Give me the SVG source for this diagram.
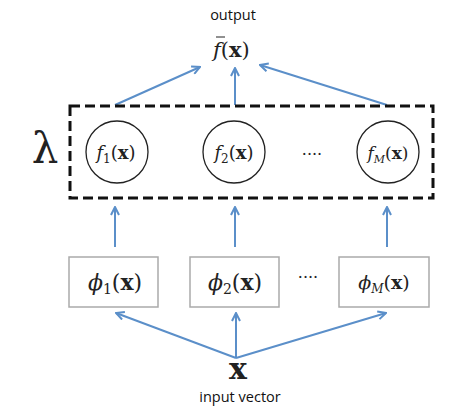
<svg xmlns="http://www.w3.org/2000/svg" width="474" height="420" viewBox="0 0 474 420">
<defs>
<marker id="ah" viewBox="0 0 10 10" refX="9" refY="5" markerWidth="10" markerHeight="10" markerUnits="userSpaceOnUse" orient="auto">
<path d="M1,1 L9,5 L1,9" fill="none" stroke="#5b8fc9" stroke-width="2"/>
</marker>
<style>
.c{stroke:#5b8fc9;stroke-width:2;fill:none;marker-end:url(#ah)}
.m{font-family:"DejaVu Serif","Liberation Serif",serif;fill:#222}
.s{font-family:"Open Sans","Liberation Sans",sans-serif;fill:#111;font-size:14.5px}
.circ{fill:#fff;stroke:#222;stroke-width:1.3}
.box{fill:#fff;stroke:#aaa;stroke-width:1.5}
</style>
</defs>
<rect width="474" height="420" fill="#fff"/>
<g id="connectors">
<line class="c" x1="115" y1="105" x2="200" y2="67"/>
<line class="c" x1="235" y1="105" x2="235" y2="68"/>
<line class="c" x1="387" y1="105" x2="260" y2="65"/>
<line class="c" x1="115" y1="247" x2="115" y2="207"/>
<line class="c" x1="235" y1="247" x2="235" y2="207"/>
<line class="c" x1="387" y1="247" x2="387" y2="207"/>
<line class="c" x1="236" y1="358" x2="116" y2="313"/>
<line class="c" x1="236" y1="358" x2="236" y2="313"/>
<line class="c" x1="236" y1="358" x2="386" y2="313"/>
</g>
<g id="output">
<text class="s" x="233" y="20" text-anchor="middle">output</text>
<text class="m" x="213" y="57" font-size="21" font-weight="300"><tspan font-style="italic">f</tspan>(<tspan font-weight="bold">x</tspan>)</text>
<line x1="216" y1="37" x2="225" y2="37" stroke="#222" stroke-width="1"/>
</g>
<g id="lambda-group">
<rect x="70" y="106" width="363" height="92" fill="none" stroke="#111" stroke-width="3" stroke-dasharray="10,5"/>
<text class="m" x="45" y="163" text-anchor="middle" font-size="42">λ</text>
</g>
<g id="f1">
<circle class="circ" cx="117" cy="152" r="31"/>
<text class="m" x="116" y="159" text-anchor="middle" font-size="18"><tspan font-style="italic">f</tspan><tspan font-size="12" dy="4">1</tspan><tspan dy="-4">(</tspan><tspan font-weight="bold">x</tspan>)</text>
</g>
<g id="f2">
<circle class="circ" cx="234" cy="152" r="31"/>
<text class="m" x="234" y="159" text-anchor="middle" font-size="18"><tspan font-style="italic">f</tspan><tspan font-size="12" dy="4">2</tspan><tspan dy="-4">(</tspan><tspan font-weight="bold">x</tspan>)</text>
</g>
<g id="fdots">
<text class="m" x="312" y="160" text-anchor="middle" font-size="16">····</text>
</g>
<g id="fM">
<circle class="circ" cx="388" cy="152" r="31"/>
<text class="m" x="388" y="159" text-anchor="middle" font-size="17"><tspan font-style="italic">f</tspan><tspan font-size="11" font-style="italic" dy="4">M</tspan><tspan dy="-4">(</tspan><tspan font-weight="bold">x</tspan>)</text>
</g>
<g id="phi1">
<rect class="box" x="69" y="257" width="89" height="50"/>
<text class="m" x="115" y="290" text-anchor="middle" font-size="22"><tspan font-style="italic">ϕ</tspan><tspan font-size="14" dy="4">1</tspan><tspan dy="-4">(</tspan><tspan font-weight="bold">x</tspan>)</text>
</g>
<g id="phi2">
<rect class="box" x="190" y="257" width="89" height="50"/>
<text class="m" x="235" y="290" text-anchor="middle" font-size="22"><tspan font-style="italic">ϕ</tspan><tspan font-size="14" dy="4">2</tspan><tspan dy="-4">(</tspan><tspan font-weight="bold">x</tspan>)</text>
</g>
<g id="phidots">
<text class="m" x="308" y="283" text-anchor="middle" font-size="16">····</text>
</g>
<g id="phiM">
<rect class="box" x="339" y="257" width="90" height="50"/>
<text class="m" x="384" y="289" text-anchor="middle" font-size="19"><tspan font-style="italic">ϕ</tspan><tspan font-size="12" font-style="italic" dy="4">M</tspan><tspan dy="-4">(</tspan><tspan font-weight="bold">x</tspan>)</text>
</g>
<g id="input">
<text class="m" x="238" y="379" text-anchor="middle" font-size="30" font-weight="bold">x</text>
<text class="s" x="240" y="402" text-anchor="middle">input vector</text>
</g>
</svg>
